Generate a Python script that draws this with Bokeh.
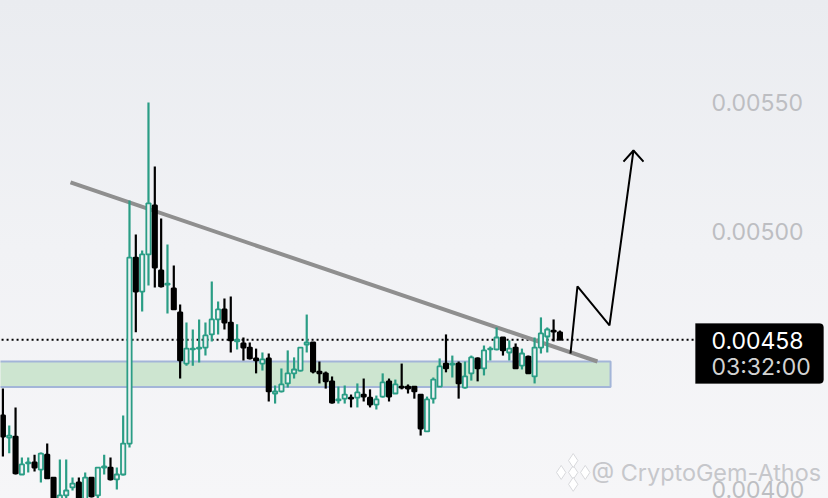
from bokeh.plotting import figure
from bokeh.embed import file_html
from bokeh.resources import INLINE
from bokeh.models import BoxAnnotation, Label, FixedTicker, PrintfTickFormatter, Range1d

UNIT = 1e-5
highs = [439.1,424.8,431.8,412.4,412.4,413.5,414.3,417.8,404.6,411.6,411.6,404.6,404.6,406.6,404.6,408.5,413.5,412.4,408.5,428.7,
 512.0,498.8,492.6,550.0,525.2,505.0,495.0,486.8,471.7,464.7,462.0,465.9,464.7,480.6,472.9,474.0,474.8,464.0,458.9,457.0,
 454.6,453.1,452.7,440.3,446.9,453.9,451.2,455.0,467.8,457.0,449.6,445.7,443.8,439.9,440.3,436.8,441.1,443.0,438.8,436.4,
 445.0,443.0,442.6,448.8,440.7,439.9,436.8,436.0,443.4,450.8,460.1,451.9,449.6,449.6,451.9,451.2,455.8,455.4,462.8,458.9,
 457.8,456.6,454.6,451.9,458.9,466.7,462.8,465.9,461.6]
opens = [428.7,420.1,420.5,405.8,410.1,410.5,407.7,413.5,404.6,393.8,397.7,400.8,402.7,393.8,404.6,397.7,408.5,408.5,403.9,405.8,
 417.8,489.9,476.7,491.1,510.1,484.9,479.4,477.9,468.6,448.8,454.3,454.6,455.0,460.1,465.9,469.8,464.7,457.4,456.6,455.0,
 450.8,448.8,450.8,437.2,438.0,441.1,445.0,446.1,456.2,457.0,445.7,445.0,441.9,434.5,435.2,435.6,435.6,436.8,435.6,432.9,
 436.0,441.9,437.2,439.9,439.9,439.9,436.8,422.5,435.2,439.9,448.8,448.4,448.8,439.5,445.0,450.8,446.9,454.3,454.3,458.9,
 453.1,455.0,448.0,451.5,443.8,455.0,459.3,461.6,460.9]
closes = [420.5,420.9,406.2,409.7,410.5,408.5,413.9,404.3,391.9,397.7,399.6,402.3,393.8,404.6,397.3,408.5,408.9,403.9,405.8,417.8,
 489.9,476.7,491.1,510.9,486.0,478.7,479.8,469.8,450.0,454.6,454.6,455.0,459.7,465.9,469.8,464.7,457.8,458.1,455.0,450.8,
 450.0,450.4,438.0,438.0,440.7,445.0,446.5,455.0,457.0,445.7,445.0,441.9,433.7,434.9,436.8,435.2,437.6,436.0,432.9,434.9,
 441.5,436.0,440.7,439.5,439.1,438.0,423.6,434.9,442.6,447.7,446.9,448.8,441.1,443.8,451.2,446.9,453.9,454.6,458.9,453.9,
 454.6,446.9,452.7,445.0,455.0,460.5,462.0,461.2,458.1]
lows = [412.8,414.0,405.8,405.8,406.6,407.0,402.7,404.3,389.9,391.1,395.7,399.6,391.9,392.6,396.9,396.5,405.8,403.5,400.0,405.4,
 416.3,460.9,469.0,479.1,478.3,478.3,468.2,469.8,443.0,448.0,448.0,449.2,451.9,457.4,460.1,462.0,453.1,454.3,450.0,450.4,
 445.0,446.1,434.1,433.3,437.6,439.5,443.0,445.7,453.1,445.0,441.1,439.1,433.3,433.3,433.3,431.8,431.8,434.1,431.8,431.0,
 435.6,434.1,437.2,438.8,437.2,435.2,420.9,422.5,433.3,439.9,445.4,443.4,435.2,439.1,442.2,441.9,444.2,450.0,453.9,451.9,
 450.0,446.9,446.5,445.0,441.1,452.7,453.1,457.4,457.8]

tick_values = [0.0040, 0.0050, 0.0055]
last_price = 0.00458
last_price_text = "0.00458"
countdown_text = "03:32:00"
watermark_text = "@ CryptoGem-Athos"

zone_low, zone_high = 439.7, 449.6
trend_x, trend_y = [10.68, 93.93], [519.0, 449.6]
arrow_x, arrow_y = [89.67, 90.77, 95.83, 99.62], [452.7, 478.7, 463.6, 531.4]
head_x, head_y = [98.04, 99.62, 101.2], [527.1, 531.4, 527.1]
logo_x, logo_y = [90.1, 88.2, 92.0, 90.1, 90.1], [406.6, 406.6, 406.6, 411.2, 402.0]

GREEN = "#2a9d85"
HOLLOW = "#eef1f3"
scale = lambda a: [v * UNIT for v in a]
H, O, C, L = scale(highs), scale(opens), scale(closes), scale(lows)
idx = list(range(len(H)))

p = figure(width=828, height=498, output_backend="svg", toolbar_location=None,
           x_range=Range1d(-0.379, 130.43), y_range=Range1d(396.5e-5, 589.53e-5),
           x_axis_location=None, y_axis_location="right",
           min_border_left=0, min_border_top=0, min_border_bottom=0, min_border_right=0,
           background_fill_color=None, border_fill_color=None, outline_line_color=None)
p.styles = {"background": "linear-gradient(180deg,#eaecf0 0%,#f1f2f5 50%,#f6f6f8 100%)"}
p.grid.visible = False
ax = p.yaxis[0]
ax.ticker = FixedTicker(ticks=tick_values)
ax.formatter = PrintfTickFormatter(format="%.5f")
ax.axis_line_color = None
ax.major_tick_line_color = None
ax.minor_tick_line_color = None
ax.major_label_standoff = -123
ax.major_label_text_color = "#bdbec2"
ax.major_label_text_font = "Inter"
ax.major_label_text_font_size = "23px"

p.quad(left=[-5], right=[96.0], bottom=[zone_low * UNIT], top=[zone_high * UNIT],
       fill_color="#cde5d0", line_color="#a3b5d8", line_width=2)
p.line([-1, 109.4], [last_price, last_price], line_color="black", line_width=2, line_dash="2 3")
p.line(trend_x, scale(trend_y), line_color="#8f8f8f", line_width=4)

for up, fill, line in ((True, HOLLOW, GREEN), (False, "black", "black")):
    sel = [i for i in idx if (C[i] >= O[i]) == up]
    p.segment([idx[i] for i in sel], [H[i] for i in sel], [idx[i] for i in sel], [L[i] for i in sel],
              line_color=line, line_width=2.2)
    p.vbar([idx[i] for i in sel], 0.68, [min(O[i], C[i]) for i in sel], [max(O[i], C[i]) for i in sel],
           fill_color=fill, line_color=line, line_width=1.8)

p.line(arrow_x, scale(arrow_y), line_color="black", line_width=2)
p.line(head_x, scale(head_y), line_color="black", line_width=2)
p.scatter(logo_x, scale(logo_y), marker="diamond", size=14, fill_color="#ffffff", line_color="#cfd0d4", line_width=0.8)

p.add_layout(Label(x=93.0, y=406.6e-5, text=watermark_text, text_font="Inter", text_font_size="23.4px",
                   text_color="#c6c7cb", text_baseline="middle"))
p.add_layout(BoxAnnotation(left=695, right=823, left_units="screen", right_units="screen",
                           bottom=441.1e-5, top=464.3e-5, fill_color="black", fill_alpha=1.0,
                           line_color="black", border_radius=(0, 4, 4, 0), level="overlay"))
lab1 = Label(x=711, x_units="screen", y=457.8e-5, text=last_price_text, text_font="Inter",
             text_font_size="23px", text_color="white", text_baseline="middle", level="overlay")
lab2 = Label(x=711, x_units="screen", y=447.3e-5, text=countdown_text, text_font="Inter",
             text_font_size="23px", text_color="#d2d2d2", text_baseline="middle", level="overlay")
p.add_layout(lab1)
p.add_layout(lab2)

open("out.html", "w").write(file_html(p, INLINE))
